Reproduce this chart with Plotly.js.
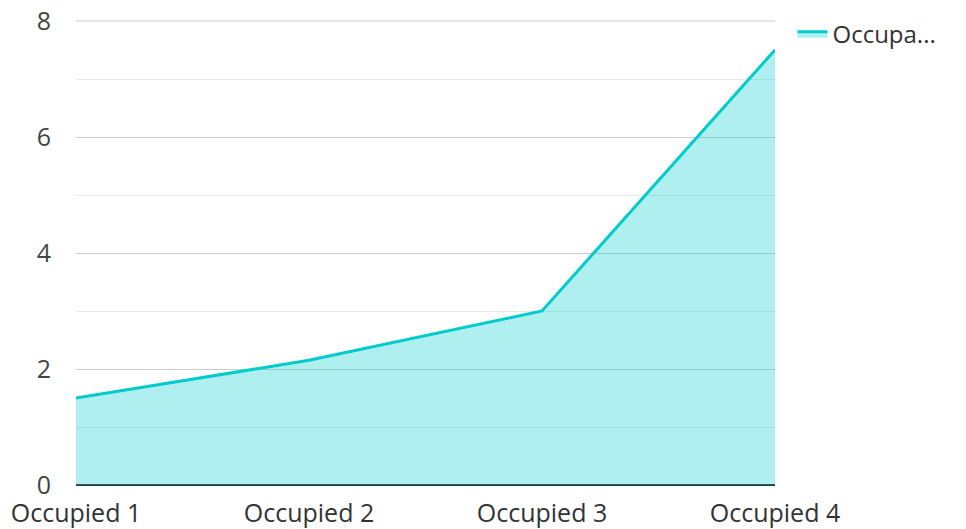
<!DOCTYPE html>
<html>
<head>
<meta charset="utf-8">
<script src="https://cdn.plot.ly/plotly-3.0.1.min.js"></script>
<style>html,body{margin:0;padding:0;background:#fff;}#chart{width:966px;height:529px;}</style>
</head>
<body>
<div id="chart"></div>
<script>
var categories = ["Occupied 1", "Occupied 2", "Occupied 3", "Occupied 4"];
var seriesName = "Occupa...";
var seriesValues = [1.5, 2.15, 3.0, 7.5];
var yTickVals = [0, 2, 4, 6, 8];

var trace = {
  type: "scatter",
  mode: "lines",
  x: categories,
  y: seriesValues,
  name: seriesName,
  fill: "tozeroy",
  fillcolor: "rgba(0,204,204,0.31)",
  line: {color: "#00cccc", width: 3},
  hoverinfo: "x+y"
};

var layout = {
  width: 966,
  height: 529,
  margin: {l: 76, r: 191, t: 21, b: 44, autoexpand: false},
  paper_bgcolor: "#ffffff",
  plot_bgcolor: "#ffffff",
  font: {family: "Open Sans, Noto Sans, sans-serif", size: 25, color: "#444444"},
  showlegend: true,
  legend: {x: 1.025, y: 1.02, xanchor: "left", yanchor: "top", font: {size: 24, color: "#333333"}, bgcolor: "rgba(0,0,0,0)"},
  xaxis: {
    type: "category",
    range: [0, 3],
    showgrid: false,
    zeroline: false,
    showline: false,
    ticks: "",
    automargin: false,
    tickfont: {size: 25, color: "#333333"},
    ticklabelstandoff: 11
  },
  yaxis: {
    range: [0, 8],
    tickvals: yTickVals,
    showgrid: true,
    gridcolor: "#cccccc",
    gridwidth: 1,
    zeroline: true,
    zerolinecolor: "#333333",
    zerolinewidth: 2,
    showline: false,
    ticks: "",
    automargin: false,
    tickfont: {size: 25, color: "#444444"},
    ticklabelstandoff: 24,
    minor: {dtick: 1, tick0: 1, showgrid: true, gridcolor: "#e8e8e8", gridwidth: 1}
  },
  shapes: [{type: "line", xref: "paper", yref: "paper", x0: 0, x1: 1, y0: 1, y1: 1, line: {color: "#cccccc", width: 1}, layer: "below"}]
};

Plotly.newPlot("chart", [trace], layout, {displayModeBar: false, staticPlot: true});
</script>
</body>
</html>
